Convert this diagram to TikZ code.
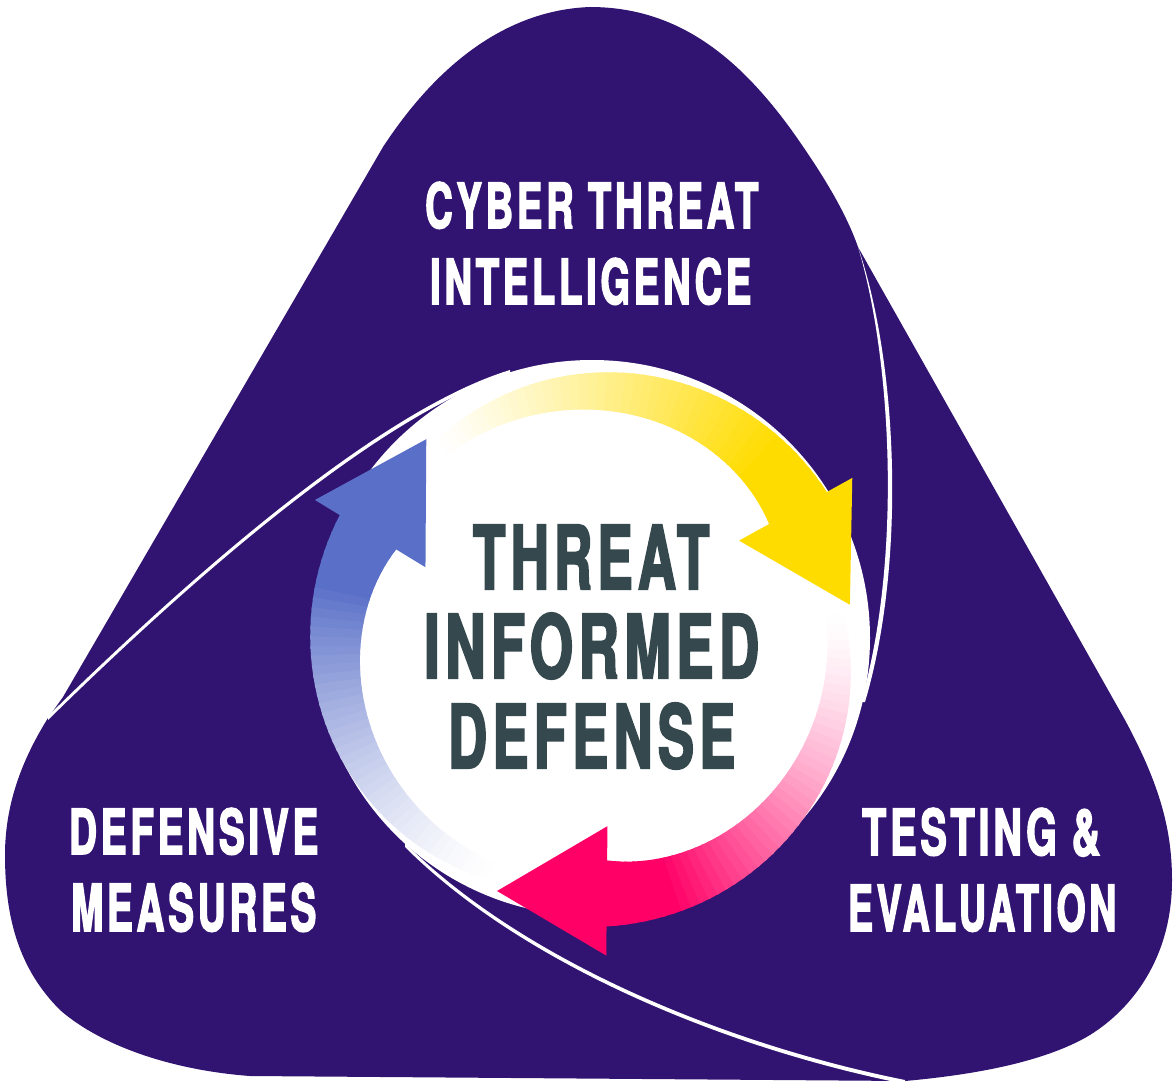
\documentclass[tikz,border=0pt]{standalone}
\usepackage{fontspec}
\usepackage{graphicx}
\newfontfamily\condfont[FakeStretch=0.7,FakeBold=2.5,LetterSpace=7]{TeX Gyre Heros}
\definecolor{lobe}{RGB}{49,19,113}
\definecolor{slate}{RGB}{53,72,77}
\definecolor{arrblue}{RGB}{90,112,200}
\definecolor{arrpink}{RGB}{255,0,102}
\definecolor{arrgold}{RGB}{255,220,0}
\newcommand{\tline}[3]{\resizebox{#1pt}{#2pt}{\condfont\bfseries #3}}
\newcommand{\drawshaft}[3]{%
  \foreach \k in {0,...,47}{%
    \pgfmathsetmacro{\phA}{\k*2}%
    \pgfmathsetmacro{\phB}{\k*2+2.6}%
    \pgfmathsetmacro{\phM}{\k*2+1}%
    \pgfmathsetmacro{\pct}{100*(max(0.001,min(1,(95-\phM)/80)))^#3}%
    \pgfmathsetmacro{\roA}{282-27*(\phA/95)*(\phA/95)}%
    \pgfmathsetmacro{\roB}{282-27*(\phB/95)*(\phB/95)}%
    \pgfmathsetmacro{\riA}{215+24*(1-exp(-\phA/30))}%
    \pgfmathsetmacro{\riB}{215+24*(1-exp(-\phB/30))}%
    \fill[#2!\pct!white] ({#1-\phA}:\roA) -- ({#1-\phB}:\roB) -- ({#1-\phB}:\riB) -- ({#1-\phA}:\riA) -- cycle;
  }%
}
\newcommand{\drawhead}[2]{\fill[#2] (#1:311) -- ({#1+23.7}:263) -- ({#1-2.5}:182) -- cycle;}
\tikzset{
  sepband/.style={fill=white, draw=none},
  lbl/.style={anchor=base west, inner sep=0pt, text=white},
  ctr/.style={anchor=base west, inner sep=0pt, text=slate}
}
\begin{document}
\begin{tikzpicture}[x=1pt,y=-1pt]
\fill[white] (0,0) rectangle (1176,1086);
\useasboundingbox (0,0) rectangle (1176,1086);
% purple rounded triangle
\fill[lobe] (383,147) .. controls (440,60) and (510,10) .. (590,7)
 .. controls (680,7) and (740,60) .. (790,128)
 .. controls (820,170) and (845,210) .. (858,247)
 -- (1125,720)
 .. controls (1160,785) and (1172,830) .. (1172,880)
 .. controls (1172,960) and (1130,1010) .. (1090,1035)
 .. controls (1040,1065) and (960,1076) .. (905,1081)
 -- (250,1076)
 .. controls (170,1070) and (100,1045) .. (60,1010)
 .. controls (20,970) and (5,920) .. (5,855)
 .. controls (5,800) and (25,755) .. (48,718)
 -- (63,697) -- cycle;
% white separator bands
\path[sepband] (858,247) .. controls (897,360) and (907,560) .. (865,702)
  -- (861,702) .. controls (902,560) and (892,360) .. (858,247) -- cycle;
\path[sepband] (48,716) .. controls (155,611) and (366,414) .. (510,370)
  -- (510,374) .. controls (366,418) and (155,615) .. (48,720) -- cycle;
\path[sepband] (905,1080) .. controls (720,1043) and (520,958) .. (405,843)
  -- (405,847) .. controls (520,962) and (720,1047) .. (905,1084) -- cycle;
% central disk
\fill[white] (592,638) circle[radius=278];
% arrows
\begin{scope}[shift={(590,645)}]
  \drawshaft{-32.5}{arrgold}{1.2}
  \drawshaft{87}{arrpink}{1.5}
  \drawshaft{207.8}{arrblue}{1.5}
  \drawhead{-32.5}{arrgold}
  \drawhead{87}{arrpink}
  \drawhead{207.8}{arrblue}
\end{scope}
% labels
\node[lbl] (cti1) at (425,228) {\tline{333}{46}{CYBER THREAT}};
\node[lbl] (cti2) at (430,304) {\tline{321}{46}{INTELLIGENCE}};
\node[lbl] (dm1) at (69,854) {\tline{249}{46}{DEFENSIVE}};
\node[lbl] (dm2) at (71,931) {\tline{245}{48}{MEASURES}};
\node[lbl] (te1) at (862,855) {\tline{238}{47}{TESTING \&}};
\node[lbl] (te2) at (848,931) {\tline{268}{47}{EVALUATION}};
\node[ctr] (tid1) at (473,589) {\tline{236}{64}{THREAT}};
\node[ctr] (tid2) at (424,678) {\tline{335}{65}{INFORMED}};
\node[ctr] (tid3) at (448,768) {\tline{287}{65}{DEFENSE}};
\end{tikzpicture}
\end{document}
